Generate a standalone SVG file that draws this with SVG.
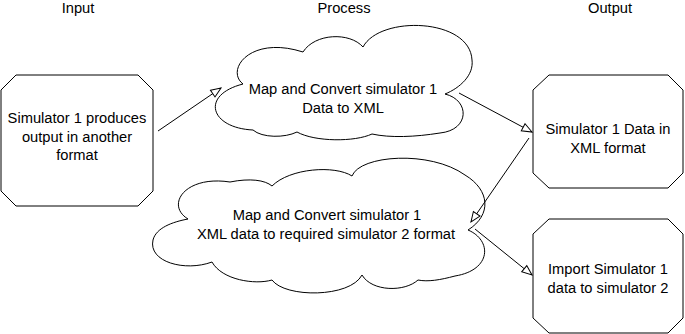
<svg xmlns="http://www.w3.org/2000/svg" width="685" height="334" viewBox="0 0 685 334">
<style>
.shape{fill:#fff;stroke:#000;stroke-width:1}
.conn{fill:none;stroke:#000;stroke-width:1;marker-end:url(#arr)}
text{font-family:"Liberation Sans",Arial,sans-serif;font-size:14.7px;fill:#000;text-anchor:middle}
</style>
<defs>
<marker id="arr" viewBox="0 0 10 8" markerWidth="10" markerHeight="8" refX="10" refY="4" orient="auto" markerUnits="userSpaceOnUse" overflow="visible">
<path d="M0,0 L10,4 L0,8 Z" fill="#fff" stroke="#000" stroke-width="1"/>
</marker>
</defs>
<rect width="685" height="334" fill="#fff"/>
<g id="headers">
<text x="78" y="12.5">Input</text>
<text x="344" y="12.5">Process</text>
<text x="610" y="12.5">Output</text>
</g>
<g id="input-box">
<path class="shape" d="M16,75 L138,75 L153,90 L153,191 L138,206 L16,206 L1,191 L1,90 Z"/>
<text x="77" y="123">Simulator 1 produces</text>
<text x="77" y="142">output in another</text>
<text x="77" y="160">format</text>
</g>
<g id="cloud1">
<path class="shape" d="M243,84 C225,70 250,35 303,52 C315,33 350,32 363,47 C380,15 470,18 472,60 C474,75 460,88 445,94 C470,100 470,130 440,133 C415,137 390,138 372,134 C355,142 315,142 297,132 C285,138 262,138 253,130 C210,128 200,95 243,84 Z"/>
<text x="343" y="94">Map and Convert simulator 1</text>
<text x="343" y="112.5">Data to XML</text>
</g>
<g id="cloud2">
<path class="shape" d="M188,219 C165,205 185,175 230,182 C250,178 265,180 272,186 C290,168 335,165 352,176 C360,155 430,150 465,175 C490,190 492,215 468,230 C492,240 492,270 455,276 C440,280 428,282 418,280 C405,292 372,292 362,275 C350,298 285,298 272,280 C255,285 222,280 212,262 C185,272 148,262 153,240 C156,228 172,222 188,219 Z"/>
<text x="327" y="220">Map and Convert simulator 1</text>
<text x="326" y="238.5">XML data to required simulator 2 format</text>
</g>
<g id="xml-box">
<path class="shape" d="M549,75 L668,75 L683,90 L683,173 L668,188 L549,188 L533,173 L533,90 Z"/>
<text x="608" y="134">Simulator 1 Data in</text>
<text x="608" y="153">XML format</text>
</g>
<g id="import-box">
<path class="shape" d="M549,219 L668,219 L683,234 L683,318 L668,333 L549,333 L533,318 L533,234 Z"/>
<text x="608" y="274">Import Simulator 1</text>
<text x="608" y="293">data to simulator 2</text>
</g>
<g id="connectors">
<line class="conn" x1="158" y1="131" x2="221" y2="88"/>
<line class="conn" x1="459" y1="93" x2="532" y2="132"/>
<line class="conn" x1="529" y1="138" x2="471" y2="222"/>
<line class="conn" x1="475" y1="229" x2="532" y2="275"/>
</g>
</svg>
